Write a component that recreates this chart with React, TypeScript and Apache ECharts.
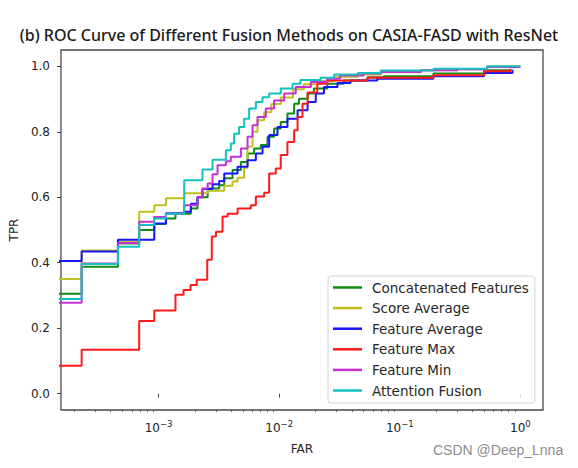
import React, { useEffect, useRef } from "react";
import * as echarts from "echarts";

const TITLE = "(b) ROC Curve of Different Fusion Methods on CASIA-FASD with ResNet";
const WATERMARK = "CSDN @Deep_Lnna";

const SERIES_NAMES = [
  "Concatenated Features",
  "Score Average",
  "Feature Average",
  "Feature Max",
  "Feature Min",
  "Attention Fusion",
];
const SERIES_COLORS = ["#128a12", "#c0c020", "#1515ff", "#ff1a1a", "#c530d5", "#15c0c0"];

// [FAR, TPR] at each jump of the staircase
const concatenated = [
  [1e-4, 0.305], [2.3e-4, 0.388], [4.6e-4, 0.459], [6.9e-4, 0.5], [9.2e-4, 0.518],
  [1.15e-3, 0.535], [1.38e-3, 0.55], [1.85e-3, 0.566], [2.1e-3, 0.6], [2.55e-3, 0.627],
  [3.18e-3, 0.637], [3.5e-3, 0.658], [4.1e-3, 0.683], [4.81e-3, 0.708], [5.46e-3, 0.734],
  [6.19e-3, 0.749], [7.04e-3, 0.76], [8.0e-3, 0.785], [9.07e-3, 0.81], [1.03e-2, 0.83],
  [1.17e-2, 0.856], [1.33e-2, 0.886], [1.46e-2, 0.901], [1.72e-2, 0.917], [1.94e-2, 0.932],
  [2.51e-2, 0.947], [3.43e-2, 0.957], [5.39e-2, 0.967], [7.36e-2, 0.97], [0.19, 0.978],
  [0.5, 0.988], [0.83, 0.99],
];
const scoreAverage = [
  [1e-4, 0.35], [2.3e-4, 0.437], [4.6e-4, 0.464], [6.9e-4, 0.556], [9.2e-4, 0.576],
  [1.15e-3, 0.597], [1.63e-3, 0.612], [2.55e-3, 0.62], [3.5e-3, 0.635], [4.1e-3, 0.648],
  [4.51e-3, 0.66], [5.12e-3, 0.69], [5.46e-3, 0.755], [6.01e-3, 0.8], [6.61e-3, 0.835],
  [7.5e-3, 0.86], [8.6e-3, 0.885], [1.03e-2, 0.905], [1.3e-2, 0.93], [1.6e-2, 0.945],
  [2.1e-2, 0.955], [2.85e-2, 0.968], [4.5e-2, 0.975], [7e-2, 0.982], [0.15, 0.988],
  [0.3, 0.991], [0.53, 1.0], [1.0, 1.0],
];
const featureAverage = [
  [1e-4, 0.405], [2.3e-4, 0.434], [4.6e-4, 0.47], [9.2e-4, 0.52], [1.15e-3, 0.551],
  [1.63e-3, 0.556], [1.85e-3, 0.58], [2.1e-3, 0.6], [2.31e-3, 0.625], [2.8e-3, 0.64],
  [3.18e-3, 0.65], [3.5e-3, 0.673], [4.51e-3, 0.693], [5.46e-3, 0.713], [6.4e-3, 0.734],
  [7.27e-3, 0.754], [8.25e-3, 0.79], [9.68e-3, 0.815], [1.17e-2, 0.84], [1.42e-2, 0.866],
  [1.72e-2, 0.891], [2.01e-2, 0.917], [2.35e-2, 0.937], [3.04e-2, 0.949], [3.9e-2, 0.957],
  [6.5e-2, 0.962], [0.19, 0.97], [0.5, 0.98], [0.86, 0.99],
];
const featureMax = [
  [1e-4, 0.085], [2.3e-4, 0.134], [6.9e-4, 0.222], [9.2e-4, 0.254], [1.38e-3, 0.302],
  [1.61e-3, 0.317], [1.84e-3, 0.332], [2.07e-3, 0.348], [2.53e-3, 0.409], [2.76e-3, 0.48],
  [2.99e-3, 0.495], [3.39e-3, 0.541], [3.73e-3, 0.55], [4.52e-3, 0.566], [5.82e-3, 0.576],
  [6.4e-3, 0.602], [7.5e-3, 0.614], [8.25e-3, 0.673], [9.37e-3, 0.688], [1.03e-2, 0.729],
  [1.17e-2, 0.769], [1.33e-2, 0.805], [1.42e-2, 0.845], [1.56e-2, 0.886], [1.72e-2, 0.92],
  [2.07e-2, 0.947], [2.51e-2, 0.957], [5.39e-2, 0.965], [0.19, 0.973], [0.5, 0.985], [0.83, 0.993],
];
const featureMin = [
  [1e-4, 0.278], [2.3e-4, 0.398], [4.6e-4, 0.46], [6.9e-4, 0.525], [9.2e-4, 0.54],
  [1.15e-3, 0.55], [1.63e-3, 0.576], [2.1e-3, 0.6], [2.31e-3, 0.627], [2.55e-3, 0.642],
  [2.8e-3, 0.67], [3.08e-3, 0.698], [3.61e-3, 0.71], [3.97e-3, 0.724], [4.81e-3, 0.749],
  [5.46e-3, 0.785], [6.01e-3, 0.82], [6.61e-3, 0.845], [7.74e-3, 0.871], [9.07e-3, 0.896],
  [1.1e-2, 0.917], [1.37e-2, 0.937], [1.83e-2, 0.952], [2.5e-2, 0.962], [3.2e-2, 0.972],
  [5e-2, 0.978], [7e-2, 0.983], [0.15, 0.988], [0.3, 0.991], [0.53, 0.998], [1.0, 1.0],
];
const attentionFusion = [
  [1e-4, 0.289], [2.3e-4, 0.396], [4.6e-4, 0.449], [6.9e-4, 0.515], [9.2e-4, 0.535],
  [1.15e-3, 0.55], [1.63e-3, 0.652], [2.31e-3, 0.685], [2.8e-3, 0.715], [3.61e-3, 0.744],
  [3.97e-3, 0.764], [4.23e-3, 0.794], [4.65e-3, 0.815], [5.12e-3, 0.84], [5.63e-3, 0.871],
  [6.4e-3, 0.891], [7.27e-3, 0.906], [8.25e-3, 0.917], [1.03e-2, 0.932], [1.29e-2, 0.947],
  [1.5e-2, 0.958], [2.2e-2, 0.965], [2.85e-2, 0.975], [4.5e-2, 0.98], [6.95e-2, 0.987],
  [0.19, 0.993], [0.53, 1.0], [1.0, 1.0],
];
const SERIES_DATA = [concatenated, scoreAverage, featureAverage, featureMax, featureMin, attentionFusion];

const Y_TICKS = [0, 0.2, 0.4, 0.6, 0.8, 1.0];
const X_MAJOR = [1e-3, 1e-2, 1e-1, 1];
const X_MINOR = [
  2e-4, 3e-4, 4e-4, 5e-4, 6e-4, 7e-4, 8e-4, 9e-4,
  2e-3, 3e-3, 4e-3, 5e-3, 6e-3, 7e-3, 8e-3, 9e-3,
  2e-2, 3e-2, 4e-2, 5e-2, 6e-2, 7e-2, 8e-2, 9e-2,
  2e-1, 3e-1, 4e-1, 5e-1, 6e-1, 7e-1, 8e-1, 9e-1,
];

const FONT = "DejaVu Sans";
const TEXT = "#222";
const FRAME = "#4a4a4a";

export default function App() {
  const ref = useRef<HTMLDivElement>(null);
  useEffect(() => {
    if (!ref.current) return;
    const chart = echarts.init(ref.current, null, { renderer: "svg" });
    const xMin = 1.55e-4;
    const xMax = 1.54;
    chart.setOption({
      animation: false,
      backgroundColor: "#fff",
      title: {
        text: TITLE,
        left: "center",
        top: 22,
        textStyle: { fontFamily: "Noto Sans", fontSize: 16, fontWeight: 500, color: "#1a1a1a" },
      },
      grid: {
        left: 60, right: 35, top: 50, bottom: 58,
        show: true, borderColor: FRAME, borderWidth: 1.3, backgroundColor: "transparent",
      },
      legend: {
        orient: "vertical",
        left: 328,
        top: 276,
        icon: "rect",
        itemWidth: 29,
        itemHeight: 2.5,
        itemGap: 4.6,
        padding: [3.5, 6, 4.5, 5],
        backgroundColor: "rgba(255,255,255,0.8)",
        borderColor: "#d4d4d4",
        borderWidth: 1,
        borderRadius: 3,
        textStyle: { fontFamily: FONT, fontSize: 13.5, lineHeight: 16, color: "#262626", padding: [0, 0, 0, 5] },
        data: SERIES_NAMES,
      },
      xAxis: [
        {
          type: "log",
          logBase: 10,
          min: xMin,
          max: xMax,
          position: "bottom",
          axisLine: { show: false },
          splitLine: { show: false },
          minorTick: { show: false },
          axisTick: { show: true, length: 4, customValues: X_MAJOR, lineStyle: { color: FRAME, width: 1 } },
          axisLabel: {
            customValues: X_MAJOR,
            margin: 9,
            formatter: (v: number) => {
              const e = Math.round(Math.log10(v));
              return "{b|10}{s|" + (e < 0 ? "\u2212" + -e : String(e)) + "}";
            },
            rich: {
              b: { fontFamily: FONT, fontSize: 12, color: TEXT, padding: [3, 0, 0, 0], verticalAlign: "bottom" },
              s: { fontFamily: FONT, fontSize: 8.5, color: TEXT, verticalAlign: "top" },
            },
          },
          name: "FAR",
          nameLocation: "middle",
          nameGap: 33,
          nameTextStyle: { fontFamily: FONT, fontSize: 12, color: TEXT },
        },
        {
          type: "log",
          logBase: 10,
          min: xMin,
          max: xMax,
          position: "bottom",
          axisLine: { show: false },
          splitLine: { show: false },
          axisLabel: { show: false },
          axisTick: { show: true, length: 2, customValues: X_MINOR, lineStyle: { color: FRAME, width: 0.8 } },
        },
      ],
      yAxis: {
        type: "value",
        min: -0.05,
        max: 1.05,
        axisLine: { show: false },
        splitLine: { show: false },
        axisTick: { show: true, length: 4, customValues: Y_TICKS, lineStyle: { color: FRAME, width: 1 } },
        axisLabel: {
          customValues: Y_TICKS,
          margin: 11,
          formatter: (v: number) => v.toFixed(1),
          fontFamily: FONT,
          fontSize: 12,
          color: TEXT,
        },
        name: "TPR",
        nameLocation: "middle",
        nameGap: 39,
        nameRotate: 90,
        nameTextStyle: { fontFamily: FONT, fontSize: 12, color: TEXT },
      },
      series: SERIES_NAMES.map((name, i) => ({
        name,
        type: "line",
        step: "end",
        symbol: "none",
        clip: true,
        xAxisIndex: 0,
        data: SERIES_DATA[i],
        lineStyle: { color: SERIES_COLORS[i], width: 2 },
        itemStyle: { color: SERIES_COLORS[i] },
      })),
      graphic: [
        {
          type: "text",
          left: 433,
          top: 443,
          style: { text: WATERMARK, font: '14px "Liberation Sans"', fill: "#8c8c8c" },
        },
      ],
    });
    return () => chart.dispose();
  }, []);
  return <div ref={ref} style={{ position: "fixed", left: 0, top: 0, width: 578, height: 468 }} />;
}
